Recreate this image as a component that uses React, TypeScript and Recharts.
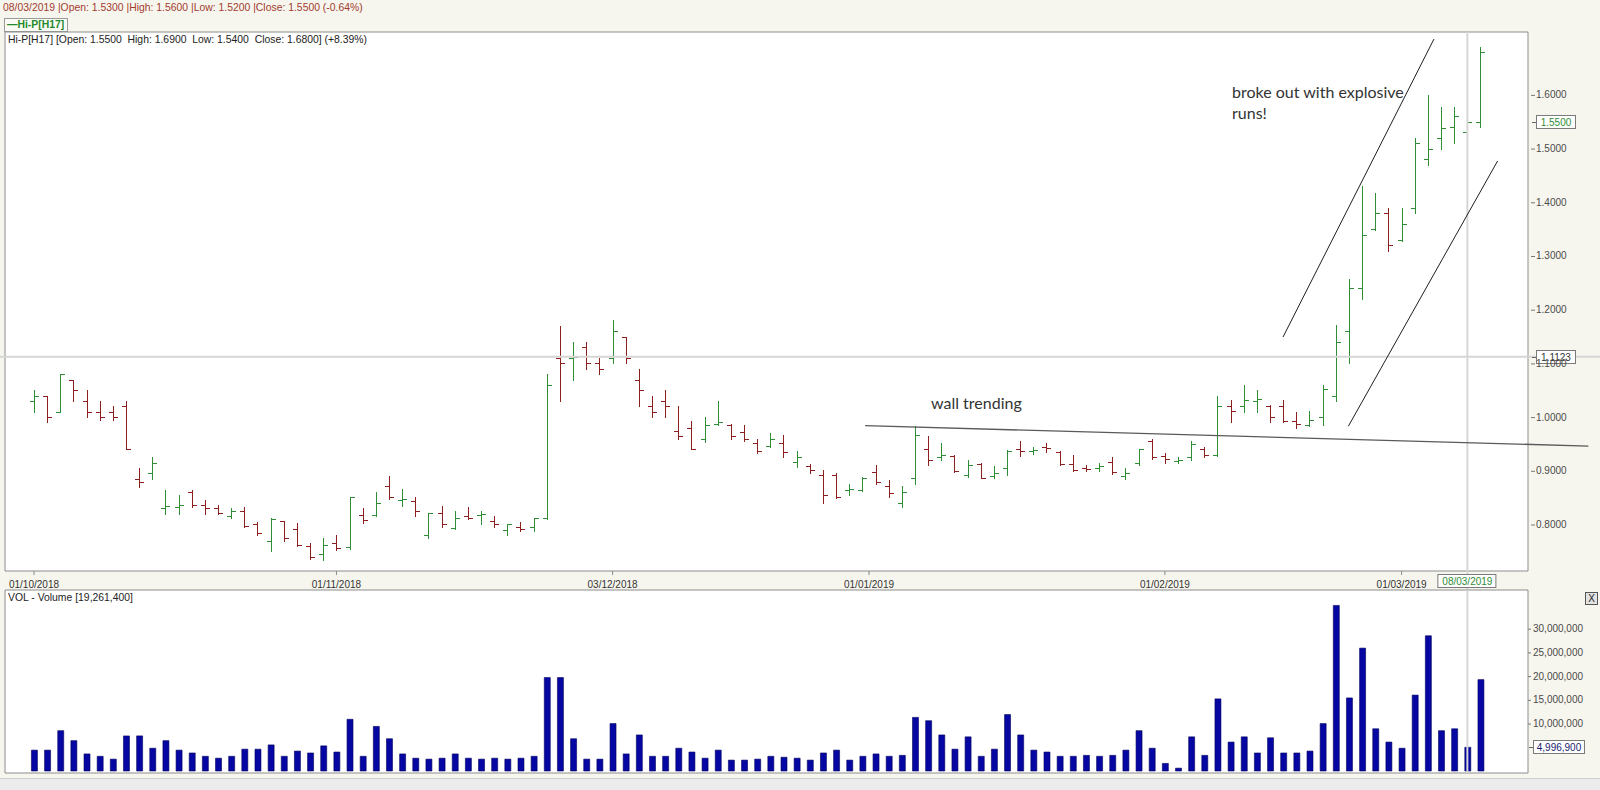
import React from 'react';
import { ComposedChart, BarChart, Bar, XAxis, YAxis, ReferenceLine, ReferenceArea, CartesianGrid } from 'recharts';

// ---- data (index = trading day, 0 = 01/10/2018) ----
const opens = [
  1.03, 1.04, 1.01, 1.07, 1.03, 1.01, 1.01, 1.02, 0.885, 0.895,
  0.83, 0.833, 0.86, 0.836, 0.83, 0.815, 0.825, 0.80, 0.77, 0.807,
  0.792, 0.76, 0.745, 0.766, 0.758, 0.818, 0.818, 0.872, 0.846, 0.843,
  0.78, 0.821, 0.793, 0.816, 0.817, 0.807, 0.79, 0.795, 0.795, 0.812,
  1.11, 1.11, 1.13, 1.10, 1.11, 1.15, 1.07, 1.02, 1.03, 0.975,
  0.98, 0.96, 0.988, 0.985, 0.973, 0.952, 0.946, 0.951, 0.917, 0.909,
  0.893, 0.892, 0.864, 0.865, 0.898, 0.872, 0.84, 0.886, 0.94, 0.926,
  0.928, 0.892, 0.913, 0.891, 0.906, 0.94, 0.936, 0.945, 0.935, 0.913,
  0.905, 0.906, 0.917, 0.89, 0.914, 0.955, 0.928, 0.918, 0.925, 0.94,
  0.93, 1.02, 1.02, 1.03, 1.021, 1.021, 0.992, 0.985, 1.0, 1.04,
  1.16, 1.24, 1.35, 1.38, 1.33, 1.39, 1.48, 1.52, 1.54, 1.53,
  1.55,
];
const highs = [
  1.05, 1.04, 1.08, 1.07, 1.05, 1.03, 1.02, 1.03, 0.905, 0.925,
  0.865, 0.855, 0.865, 0.846, 0.836, 0.83, 0.832, 0.805, 0.812, 0.807,
  0.802, 0.765, 0.775, 0.78, 0.852, 0.83, 0.86, 0.89, 0.866, 0.851,
  0.822, 0.835, 0.826, 0.832, 0.826, 0.815, 0.801, 0.805, 0.812, 1.08,
  1.17, 1.14, 1.14, 1.11, 1.18, 1.15, 1.09, 1.04, 1.05, 1.02,
  0.993, 1.0, 1.03, 0.987, 0.985, 0.96, 0.971, 0.967, 0.936, 0.912,
  0.902, 0.895, 0.875, 0.889, 0.911, 0.883, 0.871, 0.983, 0.965, 0.951,
  0.93, 0.92, 0.915, 0.908, 0.938, 0.955, 0.945, 0.951, 0.936, 0.93,
  0.911, 0.914, 0.925, 0.905, 0.94, 0.96, 0.934, 0.925, 0.955, 0.945,
  1.04, 1.032, 1.06, 1.051, 1.022, 1.031, 1.01, 1.012, 1.06, 1.172,
  1.258, 1.43, 1.418, 1.39, 1.39, 1.52, 1.60, 1.578, 1.578, 1.56,
  1.69,
];
const lows = [
  1.01, 0.99, 1.01, 1.03, 1.0, 0.995, 0.995, 0.94, 0.87, 0.885,
  0.82, 0.82, 0.833, 0.82, 0.82, 0.813, 0.795, 0.78, 0.75, 0.77,
  0.76, 0.735, 0.733, 0.753, 0.755, 0.803, 0.815, 0.847, 0.835, 0.815,
  0.774, 0.796, 0.791, 0.81, 0.80, 0.795, 0.781, 0.787, 0.787, 0.81,
  1.03, 1.07, 1.09, 1.08, 1.10, 1.10, 1.02, 1.0, 1.0, 0.96,
  0.94, 0.954, 0.985, 0.96, 0.955, 0.933, 0.944, 0.926, 0.907, 0.895,
  0.84, 0.85, 0.855, 0.863, 0.875, 0.851, 0.832, 0.876, 0.911, 0.92,
  0.898, 0.888, 0.886, 0.886, 0.892, 0.928, 0.931, 0.935, 0.911, 0.90,
  0.90, 0.90, 0.894, 0.885, 0.911, 0.922, 0.914, 0.915, 0.92, 0.925,
  0.928, 0.99, 1.01, 1.01, 0.99, 0.99, 0.98, 0.983, 0.985, 1.03,
  1.10, 1.22, 1.348, 1.31, 1.328, 1.38, 1.47, 1.50, 1.51, 1.52,
  1.54,
];
const closes = [
  1.04, 1.00, 1.08, 1.05, 1.01, 1.00, 1.00, 0.94, 0.88, 0.915,
  0.835, 0.836, 0.837, 0.83, 0.821, 0.826, 0.797, 0.784, 0.81, 0.775,
  0.762, 0.74, 0.762, 0.757, 0.852, 0.808, 0.84, 0.852, 0.848, 0.826,
  0.822, 0.80, 0.812, 0.812, 0.82, 0.80, 0.80, 0.791, 0.812, 1.06,
  1.10, 1.112, 1.10, 1.09, 1.16, 1.11, 1.05, 1.01, 1.02, 0.965,
  0.94, 0.985, 0.99, 0.965, 0.96, 0.936, 0.96, 0.935, 0.925, 0.902,
  0.855, 0.851, 0.866, 0.886, 0.88, 0.858, 0.861, 0.967, 0.92, 0.929,
  0.90, 0.911, 0.887, 0.895, 0.937, 0.937, 0.938, 0.942, 0.913, 0.902,
  0.903, 0.908, 0.897, 0.896, 0.94, 0.925, 0.922, 0.92, 0.95, 0.93,
  1.02, 1.012, 1.032, 1.033, 1.0, 0.992, 0.988, 0.995, 1.052, 1.14,
  1.24, 1.34, 1.38, 1.32, 1.36, 1.51, 1.50, 1.538, 1.56, 1.55,
  1.68,
];
// volume in millions of shares
const volumesM = [
  4.4, 4.4, 8.5, 6.4, 3.6, 3.1, 2.5, 7.4, 7.4, 4.8,
  6.4, 4.4, 3.8, 3.1, 2.7, 3.1, 4.6, 4.6, 5.5, 3.1,
  4.2, 3.8, 5.3, 4.0, 10.9, 3.1, 9.4, 6.8, 3.6, 2.7,
  2.5, 2.7, 3.6, 2.7, 2.5, 2.7, 2.5, 2.7, 3.1, 19.7,
  19.7, 6.8, 2.5, 2.5, 10.0, 3.6, 7.6, 3.1, 3.1, 4.8,
  4.0, 2.7, 4.4, 2.3, 2.3, 2.5, 3.1, 2.9, 2.7, 2.3,
  3.8, 4.4, 2.3, 3.1, 3.6, 3.1, 3.3, 11.3, 10.6, 7.6,
  4.6, 7.2, 3.1, 4.6, 11.9, 7.6, 4.4, 4.0, 3.1, 3.1,
  3.3, 3.1, 3.3, 4.4, 8.5, 4.8, 1.6, 0.6, 7.2, 3.3,
  15.2, 6.1, 7.2, 3.8, 7.0, 3.8, 3.8, 4.2, 10.0, 34.9,
  15.4, 25.9, 8.9, 6.1, 4.8, 16.0, 28.5, 8.5, 8.9, 4.9969,
  19.2614,
];

const xTickIndex = [0, 23, 44, 63.5, 86, 104];
const xTickLabels = ['01/10/2018', '01/11/2018', '03/12/2018', '01/01/2019', '01/02/2019', '01/03/2019'];
const priceTicks = [0.8, 0.9, 1.0, 1.1, 1.2, 1.3, 1.4, 1.5, 1.6];
const volumeTicks = [10000000, 15000000, 20000000, 25000000, 30000000];

const crossIndex = 109;
const crossDate = '08/03/2019';
const crossPrice = 1.1123;
const lastClose = 1.55;
const crossVolume = 4996900;

// hand-drawn annotation lines: [index, price]
const trendLines = [
  { from: [63.2, 0.984], to: [118.2, 0.946], color: '#5a5a5a', width: 1.3 },
  { from: [94.98, 1.149], to: [106.46, 1.704], color: '#1e1e1e', width: 1 },
  { from: [99.95, 0.983], to: [111.3, 1.477], color: '#1e1e1e', width: 1 },
];

const X_MIN = -2.205;
const X_MAX = 113.61;
const P_MIN = 0.7134;
const P_MAX = 1.7171;
const V_MIN = -420000;
const V_MAX = 38150000;

const GREEN = '#2f8d35';
const RED = '#8e1f1f';
const FONT = '"Liberation Sans", Arial, sans-serif';

const data = opens.map((o, i) => ({
  i,
  open: o,
  high: highs[i],
  low: lows[i],
  close: closes[i],
  range: [lows[i], highs[i]],
  vol: Math.round(volumesM[i] * 1000000),
}));

const OhlcShape = (props: any) => {
  const { x, y, width, height, payload } = props;
  if (x == null || y == null || !payload) return null;
  const top = Math.min(y, y + height);
  const bot = Math.max(y, y + height);
  const { open, high, low, close } = payload;
  const span = high - low || 1e-9;
  const yOf = (v: number) => Math.round(top + ((high - v) / span) * (bot - top)) + 0.5;
  const cx = Math.floor(x + width / 2) + 0.5;
  const color = close >= open ? GREEN : RED;
  return (
    <g stroke={color} strokeWidth={1} fill="none">
      <line x1={cx} x2={cx} y1={Math.round(top)} y2={Math.round(bot) + 1} />
      <line x1={cx - 4.5} x2={cx} y1={yOf(open)} y2={yOf(open)} />
      <line x1={cx} x2={cx + 4.5} y1={yOf(close)} y2={yOf(close)} />
    </g>
  );
};

const PriceTick = (props: any) => {
  const { x, y, payload } = props;
  return (
    <g>
      <line x1={x + 3} x2={x + 7} y1={y + 0.5} y2={y + 0.5} stroke="#777" />
      <text x={x + 8} y={y + 3.5} fontSize={10} fontFamily={FONT} fill="#4a4a4a">
        {Number(payload.value).toFixed(4)}
      </text>
    </g>
  );
};

const VolumeTick = (props: any) => {
  const { x, y, payload } = props;
  return (
    <g>
      <line x1={x} x2={x + 3} y1={y + 0.5} y2={y + 0.5} stroke="#777" />
      <text x={x + 5} y={y + 3.5} fontSize={10} fontFamily={FONT} fill="#4a4a4a">
        {Number(payload.value).toLocaleString('en-US')}
      </text>
    </g>
  );
};

const DateTick = (props: any) => {
  const { x, y, payload } = props;
  const k = xTickIndex.indexOf(payload.value);
  return (
    <g>
      <line x1={x} x2={x} y1={y} y2={y + 4} stroke="#888" />
      <text x={x} y={y + 16.5} textAnchor="middle" fontSize={10} fontFamily={FONT} fill="#333">
        {k >= 0 ? xTickLabels[k] : ''}
      </text>
    </g>
  );
};

const YBox = (props: any) => {
  const { viewBox, text, color, dashFrom, boxFrom, boxWidth } = props;
  if (!viewBox) return null;
  const x = viewBox.x + viewBox.width;
  const y = Math.round(viewBox.y) + 0.5;
  return (
    <g>
      <line x1={x + dashFrom} x2={x + boxFrom} y1={y} y2={y} stroke="#666" />
      <rect x={x + boxFrom + 0.5} y={y - 7} width={boxWidth} height={13} fill="#fff" stroke="#7a7a7a" />
      <text x={x + boxFrom + boxWidth / 2 + 0.5} y={y + 3.5} textAnchor="middle" fontSize={10} fontFamily={FONT} fill={color}>
        {text}
      </text>
    </g>
  );
};

const XBox = (props: any) => {
  const { viewBox, text } = props;
  if (!viewBox) return null;
  const x = viewBox.x;
  const yb = viewBox.y + viewBox.height;
  return (
    <g>
      <rect x={x - 29.5} y={yb + 3.5} width={58} height={13} fill="#fff" stroke="#7a7a7a" />
      <text x={x} y={yb + 13.5} textAnchor="middle" fontSize={10} fontFamily={FONT} fill={GREEN}>
        {text}
      </text>
    </g>
  );
};

export default function App() {
  return (
    <div
      style={{
        position: 'absolute',
        left: 0,
        top: 0,
        width: 1600,
        height: 790,
        background: '#f7f6ee',
        overflow: 'hidden',
        fontFamily: FONT,
      }}
    >
      {/* header lines */}
      <div style={{ position: 'absolute', left: 3, top: 1, fontSize: 10.4, lineHeight: '14px', color: '#a23b2e', whiteSpace: 'pre' }}>
        08/03/2019 |Open: 1.5300 |High: 1.5600 |Low: 1.5200 |Close: 1.5500 (-0.64%)
      </div>
      <div
        style={{
          position: 'absolute',
          left: 4,
          top: 18,
          width: 60,
          height: 12,
          border: '1px solid #9a9a9a',
          background: '#fbfbf6',
          fontSize: 10.4,
          lineHeight: '12px',
          fontWeight: 'bold',
          color: '#1f8a2a',
          whiteSpace: 'pre',
          paddingLeft: 2,
          boxSizing: 'content-box',
        }}
      >
        —Hi-P[H17]
      </div>

      {/* price chart */}
      <div style={{ position: 'absolute', left: 0, top: 0 }}>
        <ComposedChart width={1600} height={600} data={data} margin={{ top: 32, right: 0, bottom: 9, left: 5 }}>
          <CartesianGrid horizontal={false} vertical={false} fill="#ffffff" />
          <XAxis
            type="number"
            dataKey="i"
            domain={[X_MIN, X_MAX]}
            allowDataOverflow
            ticks={xTickIndex}
            interval={0}
            tick={<DateTick />}
            tickLine={false}
            axisLine={false}
            tickSize={0}
            tickMargin={0}
            height={20}
          />
          <YAxis
            yAxisId="p"
            orientation="right"
            type="number"
            domain={[P_MIN, P_MAX]}
            allowDataOverflow
            ticks={priceTicks}
            interval={0}
            tick={<PriceTick />}
            tickLine={false}
            axisLine={false}
            tickSize={0}
            tickMargin={0}
            width={72}
          />
          <ReferenceLine
            yAxisId="p"
            segment={[{ x: X_MIN - 0.4, y: crossPrice }, { x: X_MAX + 6, y: crossPrice }]}
            stroke="#d6d6d6"
            strokeWidth={2}
            ifOverflow="visible"
          />
          <ReferenceLine
            yAxisId="p"
            segment={[{ x: crossIndex, y: P_MAX }, { x: crossIndex, y: P_MIN - 0.035 }]}
            stroke="#d6d6d6"
            strokeWidth={2}
            ifOverflow="visible"
          />
          <Bar yAxisId="p" dataKey="range" barSize={10} isAnimationActive={false} shape={(p: any) => <OhlcShape {...p} />} />
          {trendLines.map((t, k) => (
            <ReferenceLine
              key={k}
              yAxisId="p"
              segment={[{ x: t.from[0], y: t.from[1] }, { x: t.to[0], y: t.to[1] }]}
              stroke={t.color}
              strokeWidth={t.width}
              ifOverflow="visible"
            />
          ))}
          <ReferenceArea yAxisId="p" x1={X_MIN} x2={X_MAX} y1={P_MIN} y2={P_MAX} fill="none" stroke="#8c8c8c" strokeWidth={1} ifOverflow="visible" />
          <ReferenceLine
            yAxisId="p"
            y={crossPrice}
            stroke="none"
            ifOverflow="visible"
            label={<YBox text={crossPrice.toFixed(4)} color="#333" dashFrom={4} boxFrom={8} boxWidth={39} />}
          />
          <ReferenceLine
            yAxisId="p"
            y={lastClose}
            stroke="none"
            ifOverflow="visible"
            label={<YBox text={lastClose.toFixed(4)} color={GREEN} dashFrom={4} boxFrom={8} boxWidth={39} />}
          />
          <ReferenceLine yAxisId="p" x={crossIndex} stroke="none" ifOverflow="visible" label={<XBox text={crossDate} />} />
        </ComposedChart>
      </div>

      {/* volume chart */}
      <div style={{ position: 'absolute', left: 0, top: 580 }}>
        <BarChart width={1600} height={210} data={data} margin={{ top: 10, right: 0, bottom: 17, left: 5 }}>
          <CartesianGrid horizontal={false} vertical={false} fill="#ffffff" />
          <XAxis type="number" dataKey="i" domain={[X_MIN, X_MAX]} allowDataOverflow hide height={0} />
          <YAxis
            yAxisId="v"
            orientation="right"
            type="number"
            domain={[V_MIN, V_MAX]}
            allowDataOverflow
            ticks={volumeTicks}
            interval={0}
            tick={<VolumeTick />}
            tickLine={false}
            axisLine={false}
            tickSize={0}
            tickMargin={0}
            width={72}
          />
          <ReferenceLine yAxisId="v" x={crossIndex} stroke="#d6d6d6" strokeWidth={2} ifOverflow="visible" />
          <Bar yAxisId="v" dataKey="vol" barSize={6} fill="#0606a2" stroke="#00005e" strokeWidth={0.6} isAnimationActive={false} />
          <ReferenceArea yAxisId="v" x1={X_MIN} x2={X_MAX} y1={V_MIN} y2={V_MAX} fill="none" stroke="#8c8c8c" strokeWidth={1} ifOverflow="visible" />
          <ReferenceLine
            yAxisId="v"
            y={crossVolume}
            stroke="none"
            ifOverflow="visible"
            label={<YBox text={crossVolume.toLocaleString('en-US')} color="#1b1b70" dashFrom={1} boxFrom={5} boxWidth={51} />}
          />
        </BarChart>
      </div>

      {/* panel titles */}
      <div style={{ position: 'absolute', left: 8, top: 33, fontSize: 10.4, lineHeight: '14px', color: '#222', whiteSpace: 'pre' }}>
        Hi-P[H17] [Open: 1.5500  High: 1.6900  Low: 1.5400  Close: 1.6800] (+8.39%)
      </div>
      <div style={{ position: 'absolute', left: 8, top: 591, fontSize: 10.4, lineHeight: '14px', color: '#222', whiteSpace: 'pre' }}>
        VOL - Volume [19,261,400]
      </div>

      {/* annotations */}
      <div style={{ position: 'absolute', left: 931, top: 392, fontFamily: 'Lato, "Open Sans", sans-serif', fontSize: 16, lineHeight: '21px', color: '#333', whiteSpace: 'pre' }}>
        wall trending
      </div>
      <div style={{ position: 'absolute', left: 1232, top: 81, fontFamily: 'Lato, "Open Sans", sans-serif', fontSize: 16, lineHeight: '21px', color: '#333', whiteSpace: 'pre' }}>
        {'broke out with explosive\nruns!'}
      </div>

      {/* close button of the volume pane */}
      <div
        style={{
          position: 'absolute',
          left: 1585,
          top: 592,
          width: 11,
          height: 11,
          border: '1px solid #555',
          background: '#e2e2e2',
          fontSize: 10,
          lineHeight: '11px',
          textAlign: 'center',
          color: '#222',
        }}
      >
        X
      </div>

      {/* status strip */}
      <div style={{ position: 'absolute', left: 0, top: 778, width: 1600, height: 12, background: '#ececec', borderTop: '1px solid #d0d0d0' }} />
    </div>
  );
}
